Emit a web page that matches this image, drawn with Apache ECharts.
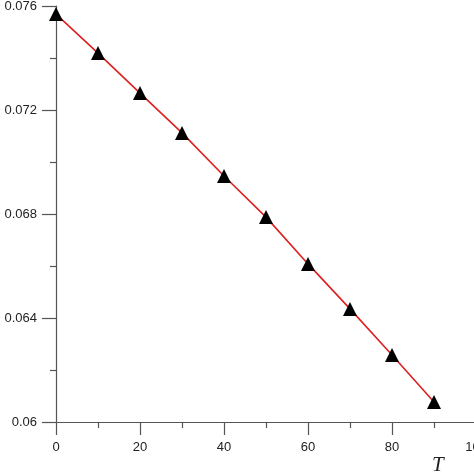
<!DOCTYPE html>
<html><head><meta charset="utf-8">
<script src="https://cdn.jsdelivr.net/npm/echarts@6/dist/echarts.min.js"></script>
<style>html,body{margin:0;padding:0;background:#fff}#c{width:474px;height:474px}</style>
</head><body><div id="c"></div>
<script>
var temps = [0, 10, 20, 30, 40, 50, 60, 70, 80, 90];
var values = [0.07569, 0.07419, 0.07265, 0.07112, 0.06946, 0.06788, 0.06608, 0.06435, 0.06258, 0.06077];
var xName = 'T';
var chart = echarts.init(document.getElementById('c'));
var axisCol = '#555';
chart.setOption({
  animation: false,
  grid: {left: 56, top: 6, right: -2, bottom: 52, outerBoundsMode: 'none', containLabel: false},
  xAxis: {
    type: 'value', min: 0, max: 100, interval: 20,
    axisLine: {lineStyle: {color: axisCol, width: 1.2}},
    axisTick: {inside: false, length: 13, lineStyle: {color: axisCol, width: 1.2}},
    minorTick: {show: true, splitNumber: 2, length: 6, lineStyle: {color: axisCol, width: 1.2}},
    axisLabel: {margin: 19, color: '#222', fontSize: 13, fontFamily: 'Liberation Sans', showMaxLabel: true, hideOverlap: false},
    splitLine: {show: false}
  },
  yAxis: {
    type: 'value', min: 0.06, max: 0.076, interval: 0.004,
    axisLine: {show: true, lineStyle: {color: axisCol, width: 1.2}},
    axisTick: {show: true, inside: false, length: 14, lineStyle: {color: axisCol, width: 1.2}},
    minorTick: {show: true, splitNumber: 2, length: 6, lineStyle: {color: axisCol, width: 1.2}},
    axisLabel: {margin: 19, color: '#222', fontSize: 13, fontFamily: 'Liberation Sans',
      formatter: function(v){ return String(+v.toFixed(3)); }},
    splitLine: {show: false}
  },
  graphic: [{type: 'text', left: 432, top: 455, style: {text: xName, font: 'italic 21px "Liberation Serif"', fill: '#222'}}],
  series: [{
    type: 'line', data: temps.map(function(t, i){ return [t, values[i]]; }),
    symbol: 'triangle', symbolSize: 14,
    itemStyle: {color: '#000'},
    lineStyle: {color: '#dd1f1f', width: 1.6},
    z: 2
  }]
});
</script></body></html>
